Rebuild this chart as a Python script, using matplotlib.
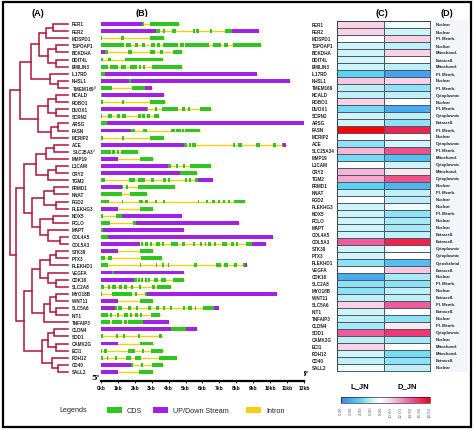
import numpy as np
import matplotlib
matplotlib.use('Agg')
import matplotlib.pyplot as plt
import matplotlib.transforms as mtransforms
from matplotlib.colors import LinearSegmentedColormap
from matplotlib.patches import Rectangle

plt.rcParams['font.family'] = ['Liberation Sans', 'DejaVu Sans']

W, H = 474, 431

genes = ['PER1', 'PER2', 'MOSPD1', 'TSPOAP1', 'BCKDHA', 'DDIT4L', 'EMILIN3', 'IL17RD',
         'NHSL1', 'TMEM169', 'NCALD', 'ROBO1', 'DUOX1', 'SCRN2', 'ARSG', 'FASN', 'MCRIP2',
         'ACE', 'SLC25A34', 'MMP19', 'L1CAM', 'CRY2', 'TGM2', 'FRMD1', 'NNAT', 'FGD2',
         'PLEKHG3', 'NOX5', 'PCLO', 'MAPT', 'COL4A5', 'COL5A3', 'STK39', 'PTX3', 'PLEKHD1',
         'VEGFA', 'CDK16', 'SLC2A8', 'MYO18B', 'WNT11', 'SLC5A6', 'NIT1', 'TNFAIP3', 'CLDN4',
         'SOD1', 'CAMK2G', 'ECI1', 'RDH12', 'CD40', 'SALL2']

# left labels in panel A (two have superscripts in the picture)
tree_labels = list(genes)
tree_labels[9] = 'TMEM169$^{8}$'
tree_labels[18] = 'SLC25A3$^{2}$'

# gene structures in kb: (start, end, kind)  U = up/down stream, C = CDS
structure = [
    [(0, 2.4, 'U'), (2.4, 2.55, 'C'), (2.9, 4.6, 'C')],
    [(0, 3.27, 'U'), (3.27, 3.47, 'C'), (3.67, 3.8, 'C'), (4.2, 4.45, 'C'), (5.43, 5.53, 'C'),
     (5.63, 5.82, 'C'), (6.47, 6.55, 'C'), (7.33, 7.73, 'C'), (7.73, 9.35, 'U')],
    [(0, 0.08, 'C'), (1.2, 1.37, 'C'), (2.88, 3.73, 'C')],
    [(0, 1.37, 'C'), (1.5, 1.76, 'C'), (2.0, 2.16, 'C'), (2.4, 2.6, 'C'), (2.98, 3.18, 'C'),
     (3.31, 3.47, 'C'), (3.67, 4.55, 'C'), (4.65, 4.9, 'C'), (4.98, 6.41, 'C'), (6.6, 7.1, 'C'),
     (7.29, 7.49, 'C'), (7.78, 9.45, 'C')],
    [(0, 0.24, 'U'), (0.24, 0.4, 'C'), (1.57, 1.84, 'C'), (2.88, 3.18, 'C'), (3.47, 3.67, 'C'),
     (4.25, 4.8, 'C')],
    [(0, 0.12, 'C'), (0.43, 0.59, 'C'), (1.41, 3.67, 'C')],
    [(0, 0.43, 'C'), (0.53, 1.02, 'C'), (1.18, 1.5, 'C'), (1.7, 2.1, 'C'), (2.24, 2.35, 'C'),
     (2.5, 2.6, 'C'), (3.02, 4.78, 'C')],
    [(0, 0.24, 'C'), (0.24, 9.2, 'U')],
    [(0, 1.65, 'U'), (1.65, 1.76, 'C'), (1.76, 11.2, 'U')],
    [(0, 0.67, 'C'), (1.84, 2.63, 'C'), (2.63, 3.02, 'U')],
    [(0, 0.08, 'C'), (0.08, 3.73, 'U')],
    [(0, 0.12, 'C'), (1.22, 1.37, 'C'), (2.88, 3.76, 'C')],
    [(0, 2.69, 'U'), (2.69, 2.78, 'C'), (3.18, 3.33, 'C'), (3.6, 4.55, 'C'), (4.78, 4.94, 'C'),
     (5.14, 5.25, 'C'), (5.88, 6.5, 'C')],
    [(0, 0.08, 'C'), (0.43, 0.63, 'C'), (0.92, 1.12, 'C'), (1.25, 1.45, 'C'), (2.16, 2.35, 'C'),
     (2.45, 2.59, 'C'), (2.69, 2.88, 'C'), (3.14, 3.41, 'C')],
    [(0, 0.33, 'C'), (0.33, 12.2, 'U')],
    [(0, 1.8, 'U'), (1.8, 2.0, 'C'), (2.49, 2.69, 'C'), (4.12, 4.35, 'C'), (4.45, 4.7, 'C'),
     (4.78, 4.9, 'C'), (4.98, 5.88, 'C')],
    [(0, 0.12, 'C'), (1.22, 1.37, 'C'), (2.88, 3.73, 'C')],
    [(0, 4.9, 'U'), (4.9, 5.1, 'C'), (5.23, 5.33, 'C'), (5.39, 5.59, 'C'), (7.78, 7.92, 'C'),
     (8.12, 8.31, 'C'), (9.18, 9.37, 'C'), (10.14, 10.33, 'C'), (10.67, 10.78, 'C'),
     (10.78, 10.95, 'U')],
    [(0, 0.59, 'C'), (0.67, 0.82, 'C'), (0.92, 1.06, 'C'), (1.18, 2.2, 'C')],
    [(0, 1.02, 'U'), (2.29, 3.08, 'C')],
    [(0, 3.96, 'U'), (3.96, 4.12, 'C'), (4.45, 4.55, 'C'), (4.84, 4.98, 'C'), (5.29, 6.53, 'C')],
    [(0, 4.65, 'U'), (4.65, 5.68, 'C')],
    [(0, 0.24, 'C'), (1.65, 2.0, 'C'), (2.2, 2.63, 'C'), (2.98, 3.14, 'C'), (3.67, 3.86, 'C'),
     (3.96, 4.06, 'C'), (4.94, 5.1, 'C'), (5.23, 5.33, 'C'), (5.53, 5.73, 'C'), (5.73, 6.6, 'U')],
    [(0, 1.22, 'U'), (1.22, 1.31, 'C'), (1.45, 1.6, 'C'), (2.2, 4.4, 'C')],
    [(0, 1.22, 'C'), (1.7, 2.69, 'C')],
    [(0, 0.47, 'C'), (1.22, 1.31, 'C'), (2.24, 2.49, 'C'), (2.59, 2.75, 'C'), (3.18, 3.3, 'C'),
     (3.67, 3.8, 'C'), (5.73, 5.78, 'C'), (6.22, 6.35, 'C'), (6.55, 6.75, 'C'), (6.94, 7.06, 'C'),
     (7.2, 7.33, 'C'), (7.53, 7.65, 'C'), (7.88, 8.54, 'C')],
    [(0, 1.02, 'U'), (2.29, 3.08, 'C')],
    [(0, 0.12, 'C'), (0.86, 1.22, 'C'), (1.22, 4.8, 'U')],
    [(0, 0.53, 'C'), (1.9, 2.04, 'C'), (2.04, 8.17, 'U')],
    [(0, 0.12, 'C'), (0.12, 4.9, 'U')],
    [(0, 0.43, 'C'), (0.43, 10.17, 'U')],
    [(0, 2.29, 'U'), (2.39, 2.49, 'C'), (2.59, 2.75, 'C'), (2.88, 3.02, 'C'), (3.27, 3.47, 'C'),
     (3.63, 3.73, 'C'), (4.16, 4.55, 'C'), (4.78, 4.98, 'C'), (5.43, 5.53, 'C'), (5.88, 5.96, 'C'),
     (6.12, 6.22, 'C'), (6.35, 6.51, 'C'), (6.67, 6.8, 'C'), (7.16, 7.45, 'C'), (7.69, 7.84, 'C'),
     (7.98, 8.12, 'C'), (8.57, 8.9, 'C'), (8.9, 9.78, 'U')],
    [(0, 1.02, 'U'), (2.29, 3.08, 'C')],
    [(0, 0.24, 'C'), (0.43, 0.63, 'C'), (2.35, 3.6, 'C')],
    [(0, 0.39, 'C'), (2.29, 2.35, 'C'), (3.23, 3.33, 'C'), (3.63, 3.71, 'C'), (3.96, 4.04, 'C'),
     (5.49, 5.65, 'C'), (6.8, 7.1, 'C'), (7.25, 7.53, 'C'), (7.88, 8.04, 'C'), (8.41, 8.51, 'C'),
     (8.51, 8.63, 'U')],
    [(0, 0.67, 'U'), (0.67, 0.78, 'C'), (0.78, 4.9, 'U')],
    [(0, 1.96, 'U'), (1.96, 2.1, 'C'), (2.2, 2.29, 'C'), (2.39, 2.49, 'C'), (2.59, 2.69, 'C'),
     (2.78, 2.88, 'C'), (3.14, 3.37, 'C'), (3.57, 3.86, 'C'), (4.25, 4.93, 'C')],
    [(0, 0.2, 'C'), (0.39, 0.51, 'C'), (0.67, 0.86, 'C'), (1.06, 1.22, 'C'), (1.37, 1.53, 'C'),
     (1.8, 1.92, 'C'), (2.24, 2.35, 'C'), (3.02, 3.18, 'C'), (3.33, 4.12, 'C')],
    [(0, 0.08, 'C'), (0.67, 1.84, 'C'), (2.0, 2.1, 'C'), (2.59, 2.69, 'C'), (2.69, 10.38, 'U')],
    [(0, 1.02, 'U'), (2.29, 3.06, 'C')],
    [(0, 0.82, 'U'), (0.82, 0.92, 'C'), (1.02, 1.22, 'C'), (1.6, 1.8, 'C'), (2.06, 2.2, 'C'),
     (2.78, 2.94, 'C'), (3.27, 3.41, 'C'), (3.67, 3.76, 'C'), (4.06, 4.2, 'C'), (4.84, 4.98, 'C'),
     (5.14, 5.37, 'C'), (5.53, 5.63, 'C'), (6.02, 6.7, 'C'), (6.7, 6.96, 'U')],
    [(0, 0.39, 'C'), (0.53, 0.67, 'C'), (0.92, 1.06, 'C'), (1.37, 1.57, 'C'), (1.7, 1.84, 'C'),
     (2.0, 2.16, 'C'), (2.3, 2.43, 'C'), (2.98, 3.5, 'C')],
    [(0, 0.53, 'C'), (0.67, 1.22, 'C'), (1.37, 1.51, 'C'), (1.6, 2.49, 'C'), (2.49, 4.0, 'U')],
    [(0, 4.12, 'U'), (4.12, 5.05, 'C'), (5.05, 5.7, 'U')],
    [(0, 0.14, 'C'), (0.86, 0.98, 'C'), (1.31, 1.41, 'C'), (2.16, 2.29, 'C'), (3.41, 3.6, 'C')],
    [(0, 1.02, 'U'), (2.29, 3.06, 'C')],
    [(0, 0.08, 'C'), (0.2, 0.33, 'C'), (1.6, 2.0, 'C'), (2.43, 2.55, 'C'), (2.94, 3.67, 'C')],
    [(0, 0.12, 'C'), (0.33, 0.43, 'C'), (0.82, 0.92, 'C'), (1.5, 1.76, 'C'), (2.0, 2.35, 'C'),
     (3.43, 4.47, 'C')],
    [(0, 1.8, 'U'), (1.8, 1.9, 'C'), (2.39, 2.49, 'C'), (3.02, 3.65, 'C')],
    [(0, 0.98, 'U'), (2.24, 3.05, 'C')],
]

# expression values (heatmap, 0-18 scale)
l_jn = [10, 10, 8, 6.5, 6.5, 6.5, 6.5, 4, 10.5, 6, 6, 10, 4.5, 6.5, 6.5, 18, 7.8,
        5, 11, 4.5, 8, 11, 11.5, 4, 6.5, 8, 6.5, 6.5, 6.5, 6.5, 6.5, 14, 6.5, 6.5, 5,
        8, 2, 5, 5, 6, 10, 6.5, 6, 5.5, 14, 6, 10, 6.5, 6, 7.5]
d_jn = [7.5, 6.5, 10, 6, 10, 8, 6, 1.5, 10, 5, 6, 8, 2, 6, 5, 16.5, 8,
        6.5, 14.5, 3, 6.5, 9, 14.5, 2.5, 6, 6, 7.5, 5, 5.5, 5.5, 6, 16.5, 8, 8, 3,
        10.5, 5.5, 5, 6, 6, 14, 8, 5, 9, 15.5, 5.5, 8, 4.5, 5, 6]

location = ['Nuclear', 'Nuclear', 'Pl. Memb.', 'Nuclear', 'Mitochond.', 'Extracell.',
            'Mitochond.', 'Pl. Memb.', 'Nuclear', 'Pl. Memb.', 'Cytoplasmic', 'Nuclear',
            'Pl. Memb.', 'Cytoplasmic', 'Extracell.', 'Pl. Memb.', 'Nuclear', 'Cytoplasmic',
            'Pl. Memb.', 'Mitochond.', 'Cytoplasmic', 'Mitochond.', 'Cytoplasmic', 'Nuclear',
            'Pl. Memb.', 'Nuclear', 'Nuclear', 'Pl. Memb.', 'Nuclear', 'Nuclear', 'Extracell.',
            'Extracell.', 'Cytoplasmic', 'Cytoplasmic', 'Cytoskeletal', 'Extracell.', 'Nuclear',
            'Pl. Memb.', 'Nuclear', 'Extracell.', 'Pl. Memb.', 'Extracell.', 'Nuclear',
            'Pl. Memb.', 'Cytoplasmic', 'Nuclear', 'Mitochond.', 'Mitochond.', 'Extracell.',
            'Nuclear']

# dendrogram merges (scipy style: ids >= 50 are earlier merges)
merges = [
    (0, 1, 15), (50, 2, 22), (3, 4, 12), (5, 6, 12), (52, 53, 20), (51, 54, 29),
    (8, 9, 10), (7, 56, 18), (55, 57, 37), (10, 11, 12), (12, 13, 12), (59, 60, 20),
    (14, 15, 10), (62, 16, 17), (61, 63, 30), (58, 64, 48),
    (17, 18, 14), (66, 19, 22), (20, 21, 12), (68, 22, 20), (67, 69, 32),
    (23, 24, 14), (25, 26, 12), (71, 72, 24), (27, 28, 15), (30, 31, 8), (29, 75, 20),
    (74, 76, 28), (73, 77, 36), (70, 78, 44),
    (32, 33, 12), (80, 34, 18), (36, 37, 12), (35, 82, 20), (81, 83, 28),
    (38, 39, 12), (40, 41, 12), (85, 86, 18), (87, 42, 24), (84, 88, 36),
    (43, 44, 14), (45, 46, 12), (90, 91, 20), (48, 49, 10), (47, 93, 16), (92, 94, 26),
    (89, 95, 44), (79, 96, 52), (65, 97, 58),
]

colors = {'C': '#2fc61e', 'U': '#a321e6'}
intron_color = '#f7cf12'
tree_color = '#b0143c'
n = len(genes)


def box(x0, y0, x1, y1):
    return [x0 / W, 1 - y1 / H, (x1 - x0) / W, (y1 - y0) / H]


fig = plt.figure(figsize=(W / 100, H / 100), dpi=100)

# overlay for frame, panel letters and legend (drawn underneath everything)
ov = fig.add_axes([0, 0, 1, 1], zorder=-1)
ov.set_xlim(0, W)
ov.set_ylim(H, 0)
ov.axis('off')

# row mapping for panels A/B: row 0 at y=25 px, spacing 7.1 px
top_px, bot_px, r0, dr = 18, 382, 25, 7.1
ylim_rows = ((bot_px - r0) / dr, (top_px - r0) / dr)

# ---------- (A) dendrogram ----------
ax_d = fig.add_axes(box(8, top_px, 70, bot_px))
ax_d.set_xlim(60, -2)
ax_d.set_ylim(*ylim_rows)
ax_d.axis('off')
pos = {i: (float(i), 0.0) for i in range(n)}
for k, (a, b, h) in enumerate(merges):
    ya, ha = pos[a]
    yb, hb = pos[b]
    ax_d.plot([ha, h, h, hb], [ya, ya, yb, yb], color=tree_color, lw=1.1,
              solid_joinstyle='miter')
    pos[n + k] = ((ya + yb) / 2, h)

# ---------- (B) gene structures ----------
ax_g = fig.add_axes(box(101, top_px, 304, bot_px))
ax_g.set_xlim(0, 12)
ax_g.set_ylim(*ylim_rows)
for s in ['top', 'right', 'left']:
    ax_g.spines[s].set_visible(False)
ax_g.spines['bottom'].set_linewidth(1.6)
ax_g.set_yticks([])
ax_g.set_xticks(range(13))
ax_g.set_xticklabels([f'{k}kb' for k in range(13)], fontsize=3.6, fontweight='bold')
ax_g.tick_params(axis='x', length=1.5, width=0.6, pad=1.5)
for i, segs in enumerate(structure):
    lo = min(s[0] for s in segs)
    hi = max(s[1] for s in segs)
    ax_g.plot([lo, hi], [i, i], color=intron_color, lw=1.0, zorder=1)
    for st, en, kind in segs:
        ax_g.barh(i, en - st, left=st, height=0.56, color=colors[kind], lw=0, zorder=2)

tr_gene = mtransforms.blended_transform_factory(fig.transFigure, ax_g.transData)
for i, g in enumerate(tree_labels):
    ax_g.text(72 / W, i, g, transform=tr_gene, fontsize=3.3, fontweight='bold',
              va='center', ha='left', color='#222222')

# ---------- (C) heatmap ----------
cmap = LinearSegmentedColormap.from_list('jn', [
    (0.0, '#3a86ec'), (0.22, '#5ad2f2'), (0.33, '#bdf0f7'), (0.44, '#ffffff'),
    (0.58, '#f9c8e0'), (0.75, '#f06aa8'), (0.88, '#f2306c'), (1.0, '#ff0000')])
ax_h = fig.add_axes(box(337, 22, 430, 372))
vals = np.column_stack([l_jn, d_jn])
mesh = ax_h.pcolormesh(vals, cmap=cmap, vmin=0, vmax=18, edgecolors='#4a5a66', linewidth=0.4)
ax_h.set_xlim(0, 2)
ax_h.set_ylim(n, 0)
ax_h.set_yticks([])
ax_h.set_xticks([0.5, 1.5])
ax_h.set_xticklabels(['L_JN', 'D_JN'], fontsize=5.5, fontweight='bold')
ax_h.tick_params(axis='x', length=0, pad=8)
for s in ax_h.spines.values():
    s.set_linewidth(0.6)
    s.set_color('#33414c')

tr_hm = mtransforms.blended_transform_factory(fig.transFigure, ax_h.transData)
for i, g in enumerate(genes):
    ax_h.text(312 / W, i + 0.5, g, transform=tr_hm, fontsize=3.3, fontweight='bold',
              va='center', ha='left', color='#222222')

# ---------- (D) localisation ----------
ov.add_patch(Rectangle((433, 21), 35, 352, color='#f3f5fa', lw=0))
for i, loc in enumerate(location):
    ax_h.text(436 / W, i + 0.5, loc, transform=tr_hm, fontsize=3.0, fontweight='bold',
              va='center', ha='left', color='#222222')

# colour bar
ax_cb = fig.add_axes(box(341, 398, 430, 404))
cb = fig.colorbar(mesh, cax=ax_cb, orientation='horizontal', ticks=np.arange(0, 19, 2))
cb.ax.set_xticklabels([f'{t:.2f}' for t in np.arange(0, 19, 2)], rotation=90,
                      fontsize=3.2, color='#666666')
cb.ax.tick_params(length=0, pad=2)
cb.outline.set_linewidth(0.4)

# ---------- frame, panel letters, legend ----------
ov.add_patch(Rectangle((3, 3), 468, 425, fill=False, lw=1.6, ec='black'))
for lab, x in [('(A)', 38), ('(B)', 142), ('(C)', 382), ('(D)', 447)]:
    ov.text(x, 14, lab, fontsize=6.5, fontweight='bold', ha='center', va='center')
ov.text(96, 378, "5'", fontsize=6, fontweight='bold', ha='center', va='center',
        family='DejaVu Serif')
ov.text(305, 374, "3'", fontsize=6, fontweight='bold', ha='center', va='center',
        family='DejaVu Serif')

ov.text(73, 411, 'Legends', fontsize=5.2, ha='center', va='center', color='#222222')
legend_items = [(107, 'CDS', colors['C']), (153, 'UP/Down Stream', colors['U']),
                (246, 'Intron', intron_color)]
for x, lab, c in legend_items:
    ov.add_patch(Rectangle((x, 408), 15, 6, color=c, lw=0))
    ov.text(x + 20, 411.5, lab, fontsize=5.2, ha='left', va='center', color='#222222')

fig.savefig('out.png', dpi=100)
